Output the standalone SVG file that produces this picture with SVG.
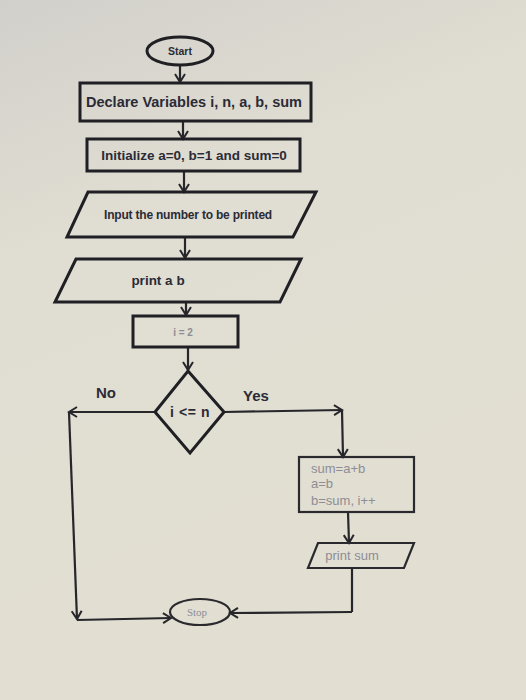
<svg xmlns="http://www.w3.org/2000/svg" width="526" height="700" viewBox="0 0 526 700">
<defs>
<linearGradient id="bg" x1="0" y1="0" x2="0.3" y2="1">
<stop offset="0" stop-color="#d2d0cb"/>
<stop offset="0.35" stop-color="#e0ddd2"/>
<stop offset="1" stop-color="#e2dfd2"/>
</linearGradient>
<marker id="arr" markerWidth="14" markerHeight="14" refX="11" refY="7" orient="auto" markerUnits="userSpaceOnUse">
<path d="M3,2 L11,7 L3,12" fill="none" stroke="#26262b" stroke-width="2"/>
</marker>
<style>
.shape{fill:none;stroke:#1f1f24;stroke-width:3}
.thin{fill:none;stroke:#2a2a2e;stroke-width:2.2}
.conn{fill:none;stroke:#26262b;stroke-width:2.2;marker-end:url(#arr)}
.line{fill:none;stroke:#26262b;stroke-width:2.2}
.bold{font-family:"Liberation Sans",Arial,sans-serif;font-weight:bold;fill:#2b2b36}
.grey{font-family:"Liberation Sans",Arial,sans-serif;fill:#8d8d95}
</style>
</defs>
<rect x="0" y="0" width="526" height="700" fill="url(#bg)"/>

<g id="connectors">
<line class="conn" x1="180" y1="66" x2="180" y2="82"/>
<line class="conn" x1="183" y1="122" x2="183" y2="139"/>
<line class="conn" x1="184" y1="172" x2="184" y2="192"/>
<line class="conn" x1="185" y1="238" x2="185" y2="258"/>
<line class="conn" x1="186" y1="303" x2="186" y2="315"/>
<line class="conn" x1="188" y1="348" x2="188" y2="370"/>
<polyline class="conn" points="155,412 69,412"/>
<polyline class="conn" points="69,412 77,619"/>
<polyline class="conn" points="77,620 171,618"/>
<polyline class="conn" points="224,412 342,410"/>
<polyline class="conn" points="342,410 343,457"/>
<polyline class="conn" points="348,512 349,543"/>
<polyline class="line" points="352,568 352,612"/>
<polyline class="conn" points="352,612 230,613"/>
</g>

<g id="start">
<ellipse class="shape" cx="180" cy="51" rx="33" ry="14"/>
<text class="bold" x="180" y="55" font-size="10.5" text-anchor="middle">Start</text>
</g>

<g id="declare">
<rect class="shape" x="80" y="83" width="231" height="38"/>
<text class="bold" x="194" y="107" font-size="14.5" text-anchor="middle">Declare Variables i, n, a, b, sum</text>
</g>

<g id="initialize">
<rect class="shape" x="87" y="139" width="213" height="32"/>
<text class="bold" x="194" y="160" font-size="13.5" text-anchor="middle">Initialize a=0, b=1 and sum=0</text>
</g>

<g id="input">
<polygon class="shape" points="88,192 316,192 293,237 67,237"/>
<text class="bold" x="188" y="219" font-size="12" text-anchor="middle" letter-spacing="-0.2">Input the number to be printed</text>
</g>

<g id="printab">
<polygon class="shape" points="76,259 301,259 280,302 55,302"/>
<text class="bold" x="158" y="285" font-size="13.5" text-anchor="middle">print a b</text>
</g>

<g id="init-i">
<rect class="shape" x="133" y="316" width="105" height="31"/>
<text class="grey" x="183" y="336" font-size="10" text-anchor="middle" font-weight="bold">i = 2</text>
</g>

<g id="decision">
<polygon class="shape" points="188,371 224,412 190,453 155,412"/>
<text class="bold" x="190" y="417" font-size="14" text-anchor="middle" letter-spacing="0.6">i &lt;= n</text>
<text class="bold" x="106" y="398" font-size="15" text-anchor="middle">No</text>
<text class="bold" x="256" y="401" font-size="15" text-anchor="middle">Yes</text>
</g>

<g id="process">
<rect class="thin" x="299" y="457" width="115" height="55"/>
<text class="grey" x="311" y="473" font-size="13">sum=a+b</text>
<text class="grey" x="311" y="488" font-size="13">a=b</text>
<text class="grey" x="311" y="505" font-size="13">b=sum, i++</text>
</g>

<g id="printsum">
<polygon class="thin" points="318,543 414,543 404,568 308,568"/>
<text class="grey" x="352" y="560" font-size="13" text-anchor="middle">print sum</text>
</g>

<g id="stop">
<ellipse class="thin" cx="200" cy="612" rx="30" ry="13"/>
<text x="197" y="616" font-size="11" text-anchor="middle" font-family="'Liberation Serif',serif" fill="#8d8d95">Stop</text>
</g>
</svg>
